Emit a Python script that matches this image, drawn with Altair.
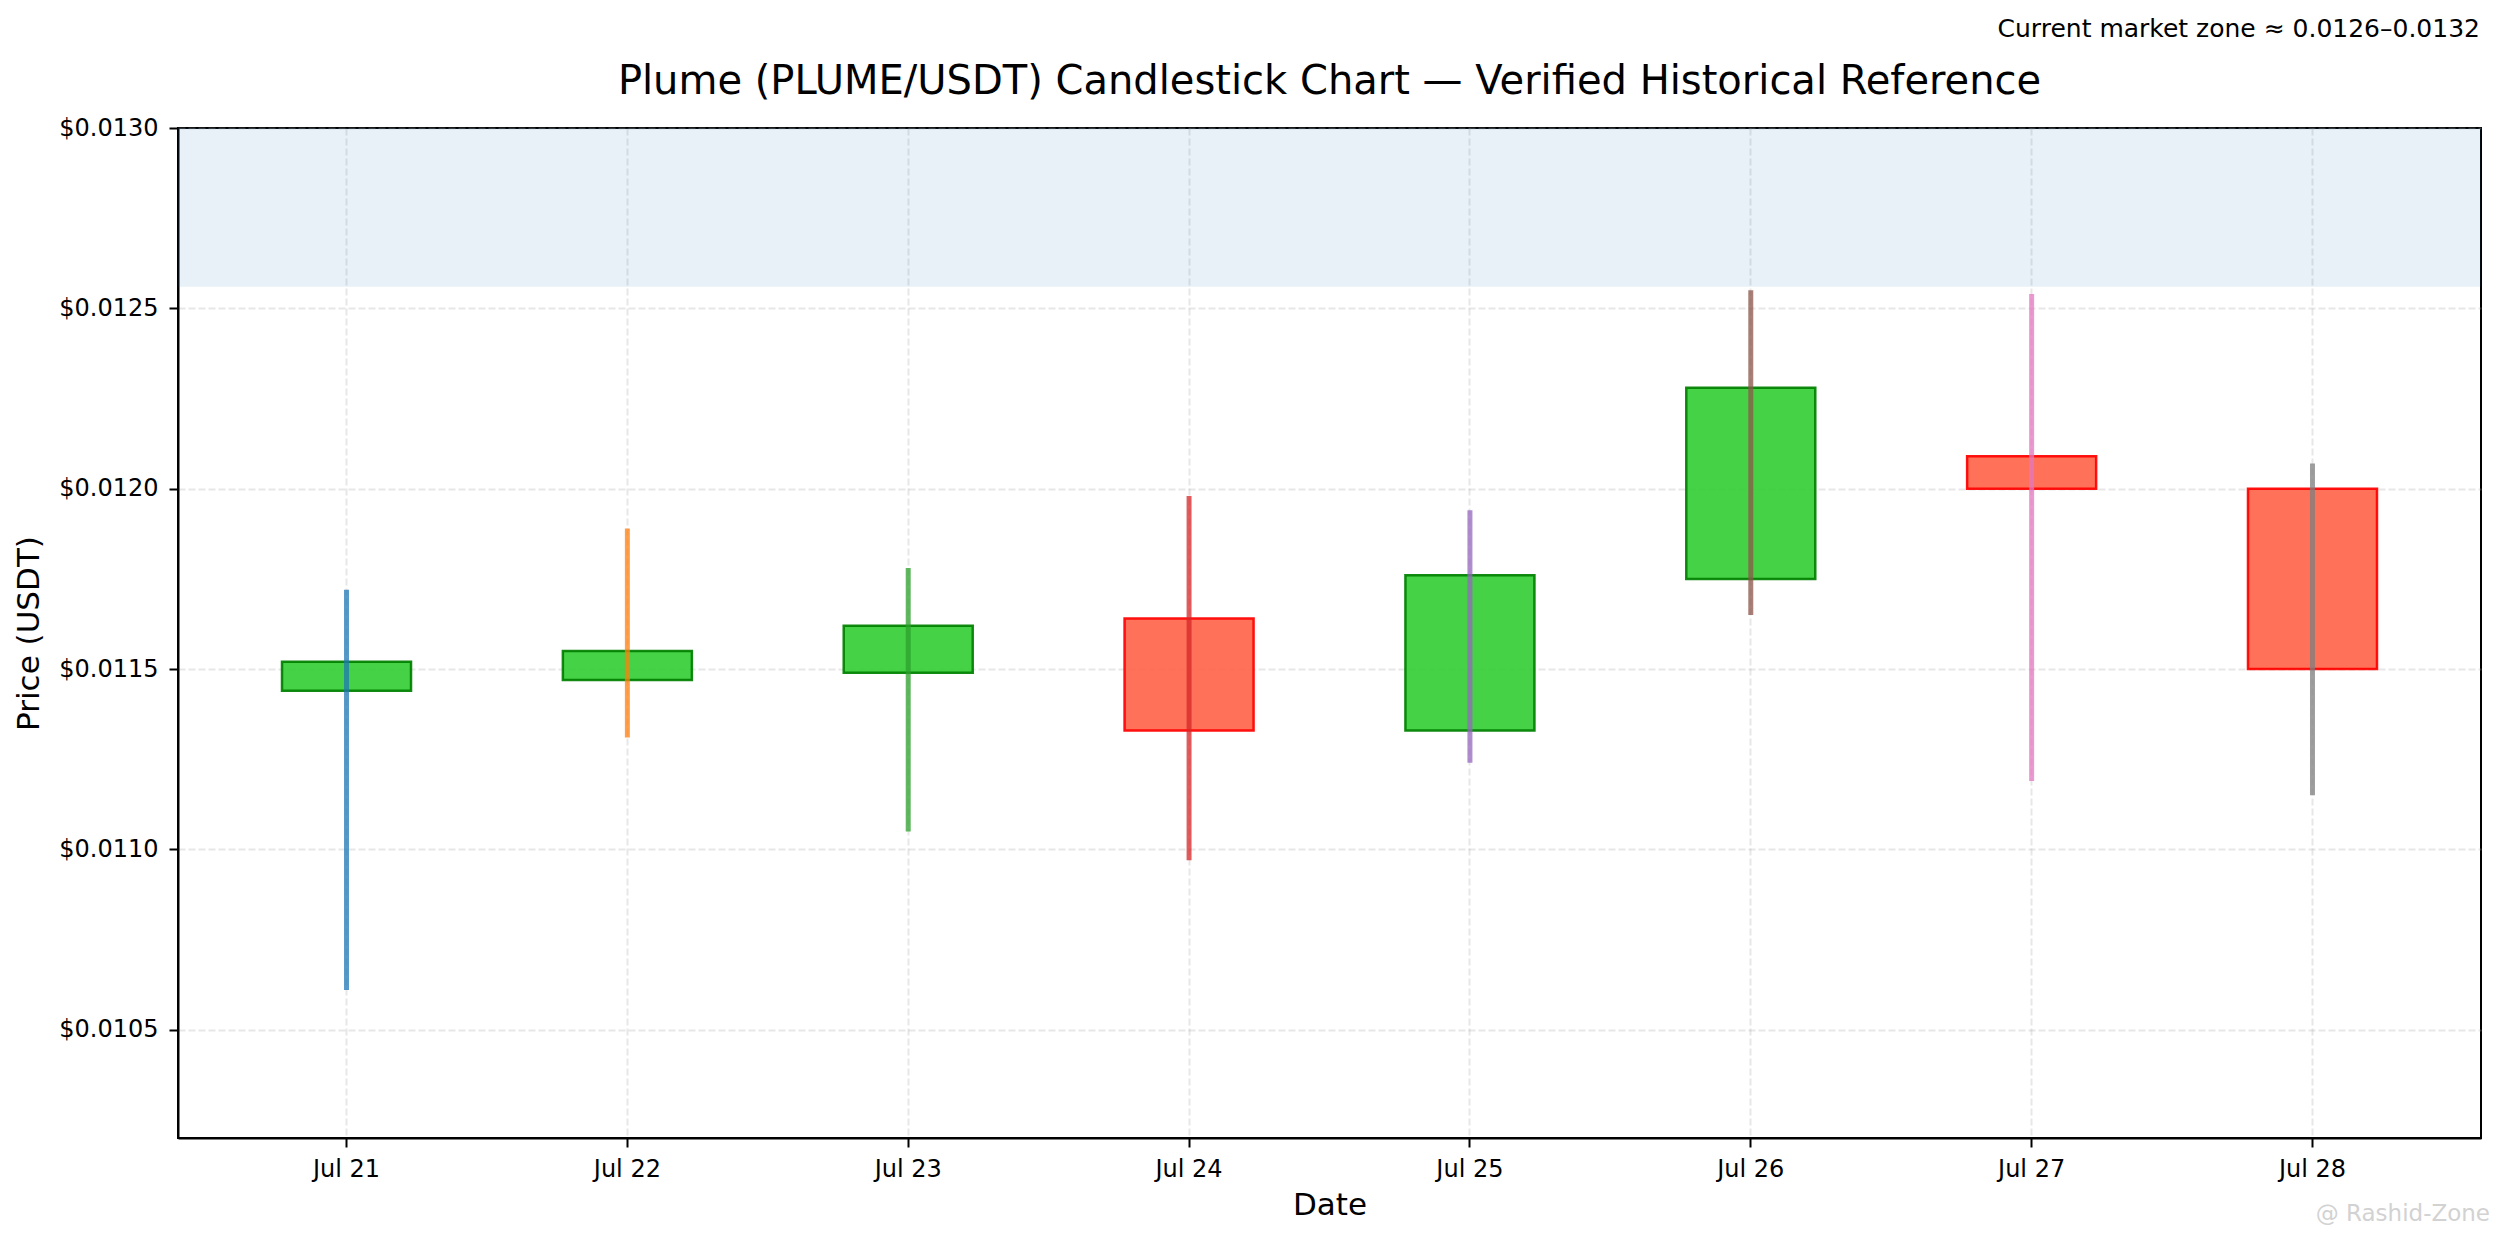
import altair as alt
import pandas as pd

# ---- data ----
dates = ["Jul 21", "Jul 22", "Jul 23", "Jul 24", "Jul 25", "Jul 26", "Jul 27", "Jul 28"]
open_ = [0.01144, 0.01147, 0.01149, 0.01164, 0.01133, 0.01175, 0.01209, 0.01200]
close = [0.01152, 0.01155, 0.01162, 0.01133, 0.01176, 0.01228, 0.01200, 0.01150]
high = [0.01172, 0.01189, 0.01178, 0.01198, 0.01194, 0.01255, 0.01254, 0.01207]
low = [0.01061, 0.01131, 0.01105, 0.01097, 0.01124, 0.01165, 0.01119, 0.01115]
wick_colors = ["#1f77b4", "#ff7f0e", "#2ca02c", "#d62728",
               "#9467bd", "#8c564b", "#e377c2", "#7f7f7f"]
zone_low = [0.01256]
zone_high = [0.0132]
y_ticks = [0.0105, 0.0110, 0.0115, 0.0120, 0.0125, 0.0130]
y_domain = [0.0102, 0.0130]
title_text = ["Plume (PLUME/USDT) Candlestick Chart \u2014 Verified Historical Reference"]
note_text = ["Current market zone \u2248 0.0126\u20130.0132"]
mark_text = ["@ Rashid-Zone"]

df = pd.DataFrame({"date": dates, "open": open_, "close": close,
                   "high": high, "low": low})
df["dir"] = ["up" if c >= o else "down" for o, c in zip(open_, close)]
zone = pd.DataFrame({"lo": zone_low, "hi": zone_high})

FONT = "DejaVu Sans"
W, H = 2303, 1010

yscale = alt.Scale(domain=y_domain, nice=False, zero=False)
xenc = alt.X("date:N", sort=dates, title="Date",
             scale=alt.Scale(paddingInner=0, paddingOuter=0.1),
             axis=alt.Axis(labelAngle=0, labelPadding=10, titlePadding=9))
yaxis = alt.Axis(values=y_ticks, labelExpr="'$' + format(datum.value, '.4f')",
                 labelPadding=11, titlePadding=13, labelFlush=False)

band = alt.Chart(zone).mark_rect(color="#1f77b4", opacity=0.1, clip=True).encode(
    y=alt.Y("lo:Q", scale=yscale, axis=yaxis, title="Price (USDT)"),
    y2="hi:Q",
)

bodies = alt.Chart(df).mark_bar(size=129, strokeWidth=2.5, fillOpacity=0.9,
                                strokeOpacity=0.92).encode(
    x=xenc,
    y=alt.Y("open:Q", scale=yscale, axis=yaxis, title="Price (USDT)"),
    y2="close:Q",
    fill=alt.Fill("dir:N", scale=alt.Scale(domain=["up", "down"],
                                           range=["#32cd32", "#ff6347"]), legend=None),
    stroke=alt.Stroke("dir:N", scale=alt.Scale(domain=["up", "down"],
                                               range=["#008000", "#ff0000"]), legend=None),
)

wicks = alt.Chart(df).mark_rule(strokeWidth=5, opacity=0.75).encode(
    x=xenc,
    y=alt.Y("low:Q", scale=yscale, axis=yaxis, title="Price (USDT)"),
    y2="high:Q",
    color=alt.Color("date:N", scale=alt.Scale(domain=dates, range=wick_colors),
                    legend=None),
)

title = alt.Chart(pd.DataFrame({"t": title_text})).mark_text(
    align="center", baseline="alphabetic", font=FONT, fontSize=40, color="black"
).encode(x=alt.value(W / 2), y=alt.value(-34), text="t:N")

note = alt.Chart(pd.DataFrame({"t": note_text})).mark_text(
    align="right", baseline="alphabetic", font=FONT, fontSize=25, color="black"
).encode(x=alt.value(W - 1), y=alt.value(-91), text="t:N")

wm = alt.Chart(pd.DataFrame({"t": mark_text})).mark_text(
    align="right", baseline="alphabetic", font=FONT, fontSize=23, color="#d2d2d2"
).encode(x=alt.value(W + 9), y=alt.value(1093), text="t:N")

chart = alt.layer(band, bodies, wicks, title, note, wm).properties(
    width=W, height=H,
    background="white",
    autosize=alt.AutoSizeParams(type="none"),
    padding={"left": 170, "top": 120, "right": 10, "bottom": 90},
).configure_axis(
    labelFont=FONT, labelFontSize=24, labelColor="black",
    titleFont=FONT, titleFontSize=31, titleFontWeight="normal", titleColor="black",
    domainColor="black", domainWidth=2, tickColor="black", tickWidth=2, tickSize=9,
    grid=True, gridColor="#b0b0b0", gridOpacity=0.3, gridDash=[7, 3], gridWidth=2,
).configure_view(
    stroke="black", strokeWidth=2
)

chart.save("out.html", embed_options={"renderer": "svg", "actions": False})
